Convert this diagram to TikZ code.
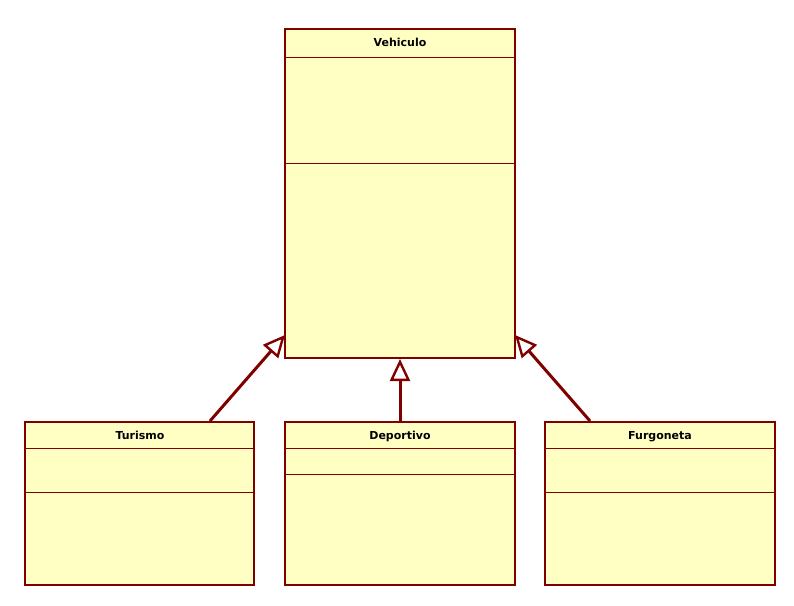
\documentclass[tikz,border=0pt]{standalone}
\usepackage{fontspec}
\setmainfont{DejaVu Sans}
\usetikzlibrary{arrows.meta}
\definecolor{umlfill}{HTML}{FFFFC4}
\definecolor{umlline}{HTML}{800000}
\begin{document}
\begin{tikzpicture}[x=1pt,y=-1pt,
  cls/.style={draw=umlline,fill=umlfill,line width=2pt},
  sep/.style={draw=umlline,line width=1pt},
  ttl/.style={font=\fontsize{11}{12}\selectfont\bfseries,text=black,text height=8pt,text depth=2pt},
  gen/.style={draw=umlline,line width=3pt,-{Triangle[open,length=22pt,width=20pt,line width=2.4pt]}}]
\useasboundingbox (0,0) rectangle (794,605);
% Vehiculo
\draw[cls] (285,29) rectangle (515,358);
\draw[sep] (285,57) -- (515,57);
\draw[sep] (285,163) -- (515,163);
\node[ttl] (vehT) at (400,43) {Vehiculo};
% Turismo
\draw[cls] (25,422) rectangle (254,585);
\draw[sep] (25,448) -- (254,448);
\draw[sep] (25,492) -- (254,492);
\node[ttl] (turT) at (140,436) {Turismo};
% Deportivo
\draw[cls] (285,422) rectangle (515,585);
\draw[sep] (285,448) -- (515,448);
\draw[sep] (285,474) -- (515,474);
\node[ttl] (depT) at (400,436) {Deportivo};
% Furgoneta
\draw[cls] (545,422) rectangle (775,585);
\draw[sep] (545,448) -- (775,448);
\draw[sep] (545,492) -- (775,492);
\node[ttl] (furT) at (660,436) {Furgoneta};
% connectors
\coordinate (t1) at (210,421); \coordinate (t2) at (285,335);
\coordinate (d1) at (400,421); \coordinate (d2) at (400,359);
\coordinate (f1) at (590,421); \coordinate (f2) at (515,335);
\draw[gen] (t1) -- (t2);
\draw[gen] (d1) -- (d2);
\draw[gen] (f1) -- (f2);
\end{tikzpicture}
\end{document}
